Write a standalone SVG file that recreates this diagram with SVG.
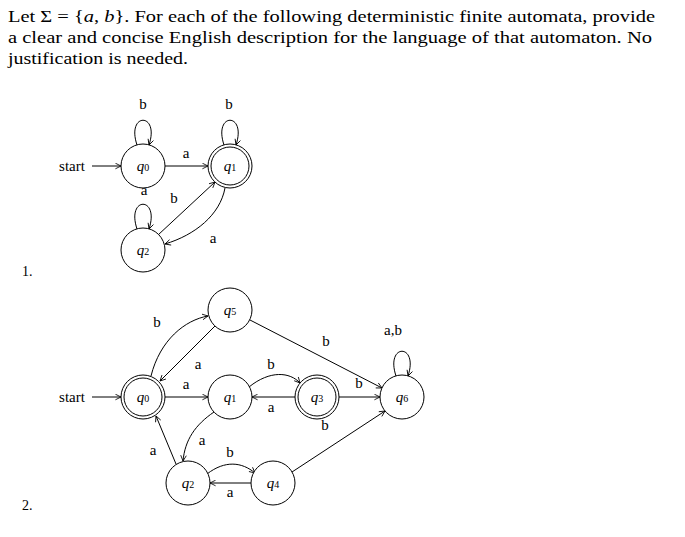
<svg xmlns="http://www.w3.org/2000/svg" width="685" height="537" viewBox="0 0 685 537">
<style>
text{font-family:"Liberation Serif",serif;font-size:16px;fill:#000}
.l{font-size:15px;text-anchor:middle}
.q{font-size:15px;font-style:italic;text-anchor:middle}
.s{font-size:10px;font-style:normal}
circle{fill:#fff;stroke:#000;stroke-width:1}
.e{fill:none;stroke:#000;stroke-width:1;marker-end:url(#ar)}
</style>
<defs><marker id="ar" viewBox="0 0 10 10" refX="9" refY="5" markerWidth="7" markerHeight="7" orient="auto"><path d="M1,1 L9,5 L1,9" fill="none" stroke="#000" stroke-width="1.2"/></marker></defs>
<rect width="685" height="537" fill="#fff"/>
<text x="8" y="22" textLength="647" lengthAdjust="spacingAndGlyphs">Let Σ = {<tspan font-style="italic">a</tspan>, <tspan font-style="italic">b</tspan>}. For each of the following deterministic finite automata, provide</text>
<text x="8" y="43" textLength="644" lengthAdjust="spacingAndGlyphs">a clear and concise English description for the language of that automaton. No</text>
<text x="8" y="64" textLength="180" lengthAdjust="spacingAndGlyphs">justification is needed.</text>
<text x="22" y="276" style="font-size:14px">1.</text>
<text x="22" y="510" style="font-size:14px">2.</text>
<g id="connectors">
<path class="e" d="M92,166 H121"/>
<path class="e" d="M165,166 H208"/>
<path class="e" d="M137,145 C126,112 160,112 149,145"/>
<path class="e" d="M224,145 C213,112 247,112 236,145"/>
<path class="e" d="M137,229 C126,196 160,196 149,229"/>
<path class="e" d="M158,235 L215,182"/>
<path class="e" d="M225,188 C220,215 195,235 165,244"/>
<path class="e" d="M92,397 H121"/>
<path class="e" d="M165,397 H208"/>
<path class="e" d="M151,376 C160,340 185,320 208,316"/>
<path class="e" d="M215,326 L160,381"/>
<path class="e" d="M249,387 C270,370 290,372 300,383"/>
<path class="e" d="M295,397 H252"/>
<path class="e" d="M339,397 H380"/>
<path class="e" d="M250,320 L382,388"/>
<path class="e" d="M396,376 C385,343 419,343 408,376"/>
<path class="e" d="M214,412 C195,425 185,440 183,461"/>
<path class="e" d="M176,464 L156,416"/>
<path class="e" d="M207,474 C225,460 242,462 255,473"/>
<path class="e" d="M251,483 H210"/>
<path class="e" d="M292,472 L385,411"/>
</g>
<g class="l">
<text x="72" y="171" class="l">start</text>
<text x="186" y="158" class="l">a</text>
<text x="143" y="109" class="l">b</text>
<text x="229" y="109" class="l">b</text>
<text x="144" y="195" class="l">a</text>
<text x="174" y="203" class="l">b</text>
<text x="213" y="243" class="l">a</text>
<text x="72" y="402" class="l">start</text>
<text x="157" y="327" class="l">b</text>
<text x="198" y="369" class="l">a</text>
<text x="186" y="389" class="l">a</text>
<text x="271" y="369" class="l">b</text>
<text x="271" y="412" class="l">a</text>
<text x="359" y="388" class="l">b</text>
<text x="326" y="346" class="l">b</text>
<text x="325" y="430" class="l">b</text>
<text x="393" y="335" class="l">a,b</text>
<text x="202" y="445" class="l">a</text>
<text x="153" y="455" class="l">a</text>
<text x="230" y="457" class="l">b</text>
<text x="230" y="497" class="l">a</text>
</g>
<g id="n1q0"><circle cx="143" cy="166" r="22"/><text x="143" y="171" class="q">q<tspan class="s">0</tspan></text></g>
<g id="n1q1"><circle cx="230" cy="166" r="22"/><circle cx="230" cy="166" r="19"/><text x="230" y="171" class="q">q<tspan class="s">1</tspan></text></g>
<g id="n1q2"><circle cx="143" cy="250" r="22"/><text x="143" y="255" class="q">q<tspan class="s">2</tspan></text></g>
<g id="n2q0"><circle cx="143" cy="397" r="22"/><circle cx="143" cy="397" r="19"/><text x="143" y="402" class="q">q<tspan class="s">0</tspan></text></g>
<g id="n2q5"><circle cx="230" cy="310" r="22"/><text x="230" y="315" class="q">q<tspan class="s">5</tspan></text></g>
<g id="n2q1"><circle cx="230" cy="397" r="22"/><text x="230" y="402" class="q">q<tspan class="s">1</tspan></text></g>
<g id="n2q3"><circle cx="317" cy="397" r="22"/><circle cx="317" cy="397" r="19"/><text x="317" y="402" class="q">q<tspan class="s">3</tspan></text></g>
<g id="n2q6"><circle cx="402" cy="397" r="22"/><text x="402" y="402" class="q">q<tspan class="s">6</tspan></text></g>
<g id="n2q2"><circle cx="188" cy="483" r="22"/><text x="188" y="488" class="q">q<tspan class="s">2</tspan></text></g>
<g id="n2q4"><circle cx="273" cy="483" r="22"/><text x="273" y="488" class="q">q<tspan class="s">4</tspan></text></g>
</svg>
